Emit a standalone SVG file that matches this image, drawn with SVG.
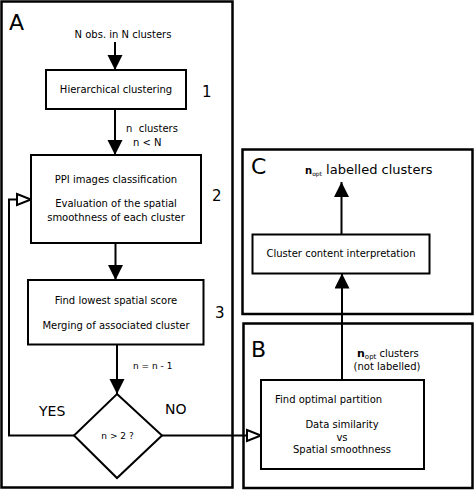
<svg xmlns="http://www.w3.org/2000/svg" width="474" height="490" viewBox="0 0 474 490">
<style>
text{font-family:"DejaVu Sans","Liberation Sans",sans-serif;fill:#000}
.panel{fill:none;stroke:#000;stroke-width:2.5}
.box{fill:#fff;stroke:#000;stroke-width:2}
.t{font-size:10px;text-anchor:middle}
.big{font-size:22px}
.num{font-size:15px}
.yn{font-size:14px}
.sm{font-size:9px}
.ln{fill:none;stroke:#000;stroke-width:2}
</style>
<defs>
<marker id="fa" markerUnits="userSpaceOnUse" markerWidth="16" markerHeight="16" refX="15" refY="7.5" orient="auto" viewBox="0 0 16 16">
<path d="M0,0 L15,7.5 L0,15 Z" fill="#000"/>
</marker>
<marker id="ha" markerUnits="userSpaceOnUse" markerWidth="18" markerHeight="16" refX="15" refY="7" orient="auto" viewBox="-1 -1 18 16">
<path d="M1,1.5 L15,7 L1,12.5 Z" fill="#fff" stroke="#000" stroke-width="2"/>
</marker>
</defs>
<rect x="0" y="0" width="474" height="490" fill="#fff"/>

<g id="panelA">
<rect class="panel" x="1.5" y="1.5" width="231" height="486"/>
<text class="big" x="9" y="30">A</text>
</g>
<g id="panelC">
<rect class="panel" x="242.5" y="149.5" width="230" height="164.5"/>
<text class="big" x="251" y="174">C</text>
</g>
<g id="panelB">
<rect class="panel" x="243.5" y="323.5" width="229" height="164.5"/>
<text class="big" x="251" y="357">B</text>
</g>

<g id="connectors">
<path class="ln" d="M115,42 V70" marker-end="url(#fa)"/>
<path class="ln" d="M115,109 V155" marker-end="url(#fa)"/>
<path class="ln" d="M115.5,243 V280" marker-end="url(#fa)"/>
<path class="ln" d="M117,344 V394" marker-end="url(#fa)"/>
<path class="ln" d="M74,435.5 H9 V199.5 H31" marker-end="url(#ha)"/>
<path class="ln" d="M162,435.5 H261" marker-end="url(#ha)"/>
<path class="ln" d="M342,380 V273.5" marker-end="url(#fa)"/>
<path class="ln" d="M341.5,234.5 V182" marker-end="url(#fa)"/>
</g>

<g id="input">
<text class="t" x="123" y="38">N obs. in N clusters</text>
</g>
<g id="step1">
<rect class="box" x="46" y="70" width="140" height="39"/>
<text class="t" x="116" y="93">Hierarchical clustering</text>
<text class="num" x="202" y="97">1</text>
</g>
<g id="label-n">
<text class="t" x="126" y="132" style="text-anchor:start" xml:space="preserve">n  clusters</text>
<text class="t" x="133" y="146" style="text-anchor:start">n &lt; N</text>
</g>
<g id="step2">
<rect class="box" x="31" y="155" width="170" height="88"/>
<text class="t" x="116" y="183">PPI images classification</text>
<text class="t" x="116" y="207">Evaluation of the spatial</text>
<text class="t" x="116" y="221">smoothness of each cluster</text>
<text class="num" x="212" y="201">2</text>
</g>
<g id="step3">
<rect class="box" x="28" y="280" width="175.5" height="64.5"/>
<text class="t" x="116" y="304">Find lowest spatial score</text>
<text class="t" x="116" y="328.5">Merging of associated cluster</text>
<text class="num" x="215" y="318">3</text>
</g>
<g id="label-dec">
<text class="sm" x="133" y="369">n = n - 1</text>
</g>
<g id="decision">
<polygon class="box" points="117,394 162,435.5 117,478 74,435.5"/>
<text class="sm" x="117.5" y="439" text-anchor="middle">n &gt; 2 ?</text>
<text class="yn" x="39" y="416">YES</text>
<text class="yn" x="165" y="414">NO</text>
</g>
<g id="optimal">
<rect class="box" x="261" y="380" width="163" height="89"/>
<text class="t" x="275" y="402.5" style="text-anchor:start">Find optimal partition</text>
<text class="t" x="342" y="427.5">Data similarity</text>
<text class="t" x="342" y="440.5">vs</text>
<text class="t" x="342" y="453">Spatial smoothness</text>
</g>
<g id="label-nopt">
<text x="357" y="357" font-size="11" font-weight="bold">n<tspan font-size="7" font-weight="normal" dy="2">opt</tspan><tspan font-size="10" font-weight="normal" dy="-2"> clusters</tspan></text>
<text class="t" x="387" y="370">(not labelled)</text>
</g>
<g id="interpret">
<rect class="box" x="252.5" y="234.5" width="177" height="39"/>
<text class="t" x="341" y="257">Cluster content interpretation</text>
</g>
<g id="output">
<text x="305" y="173.5" font-size="13"><tspan font-size="10" font-weight="bold">n</tspan><tspan font-size="6" dy="2">opt</tspan><tspan dy="-2"> labelled clusters</tspan></text>
</g>
</svg>
